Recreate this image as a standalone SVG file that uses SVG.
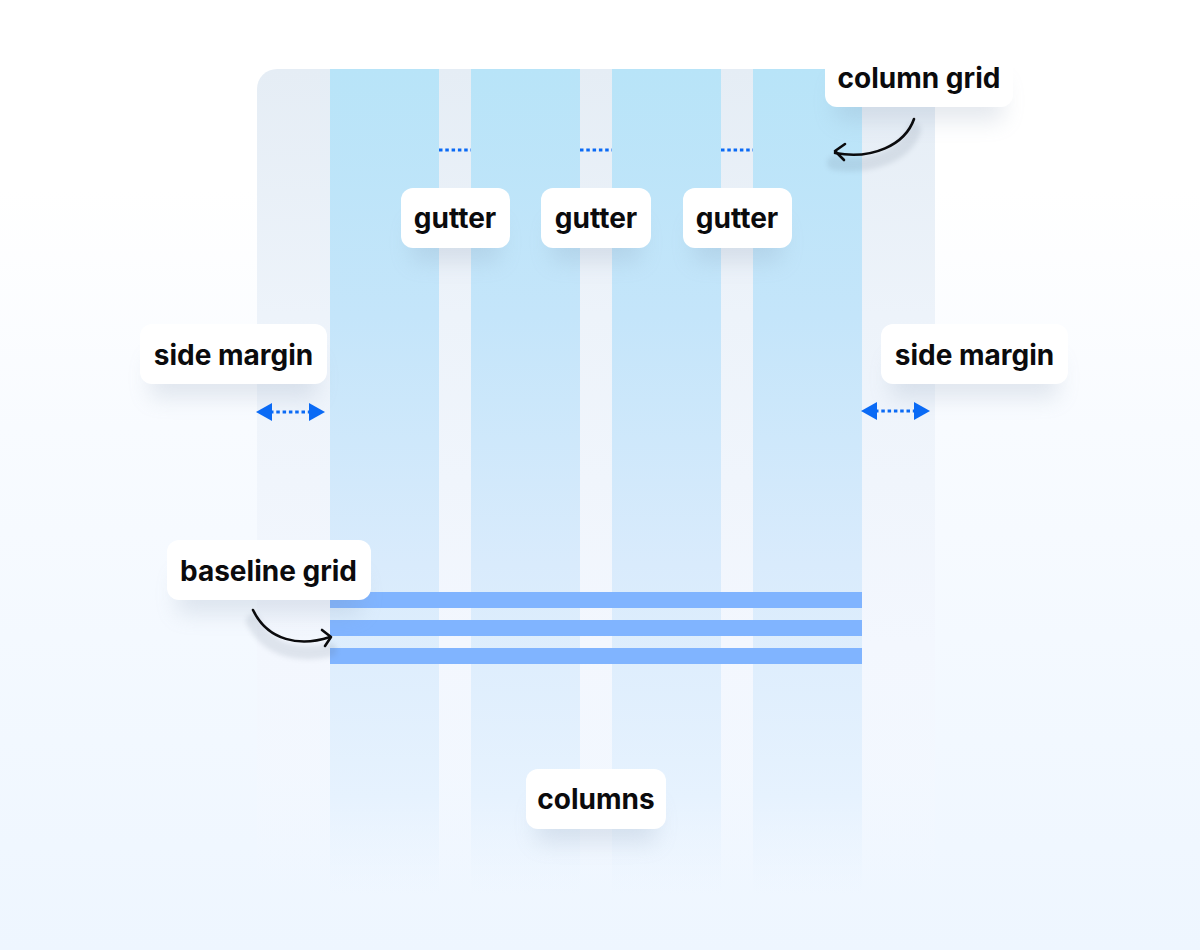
<svg xmlns="http://www.w3.org/2000/svg" width="1200" height="950" viewBox="0 0 1200 950">
<style>
.card{fill:#fff}
.lbl{font-family:"Inter","Liberation Sans",sans-serif;font-weight:700;font-size:28px;fill:#0b0b0d;text-anchor:middle}
.sh{fill:#7f93ad;opacity:.2;filter:url(#blur)}
.col{fill:url(#colGrad)}
.bar{fill:#80b4ff}
.dot{fill:none;stroke:#0a6af5;stroke-width:3;stroke-dasharray:3.5 2.8}
.curve{fill:none;stroke:#0b0b0d;stroke-width:2.6;stroke-linecap:round;stroke-linejoin:round}
.curveSh{fill:none;stroke:#5e6f85;stroke-width:14;stroke-linecap:round;opacity:.14;filter:url(#blurS)}
</style>
<defs>
<linearGradient id="bg" x1="0" y1="0" x2="0" y2="950" gradientUnits="userSpaceOnUse">
<stop offset="0" stop-color="#fff"/><stop offset=".2" stop-color="#fff"/><stop offset=".45" stop-color="#f8fbff"/><stop offset="1" stop-color="#eef6ff"/>
</linearGradient>
<linearGradient id="panelGrad" x1="0" y1="69" x2="0" y2="890" gradientUnits="userSpaceOnUse">
<stop offset="0" stop-color="#e5edf5"/><stop offset=".3" stop-color="#edf3fa"/><stop offset=".7" stop-color="#f3f7fe"/><stop offset="1" stop-color="#f3f7fe" stop-opacity="0"/>
</linearGradient>
<linearGradient id="colGrad" x1="0" y1="69" x2="0" y2="895" gradientUnits="userSpaceOnUse">
<stop offset="0" stop-color="#b8e4f8"/><stop offset=".3" stop-color="#c4e5fa"/><stop offset=".6" stop-color="#d9ebfc"/><stop offset=".88" stop-color="#e6f2fe"/><stop offset="1" stop-color="#e8f3fe" stop-opacity="0"/>
</linearGradient>
<filter id="blur" x="-30%" y="-60%" width="160%" height="220%"><feGaussianBlur stdDeviation="11"/></filter>
<filter id="blurS" x="-40%" y="-40%" width="180%" height="180%"><feGaussianBlur stdDeviation="2.5"/></filter>
<marker id="tri" viewBox="0 0 16 18" refX="2" refY="9" markerWidth="16" markerHeight="18" markerUnits="userSpaceOnUse" orient="auto-start-reverse"><path d="M0 0L16 9L0 18Z" fill="#0a6af5"/></marker>
</defs>
<rect width="1200" height="950" fill="url(#bg)"/>
<g id="page">
<path d="M935 890H257V89a20 20 0 0 1 20-20H935Z" fill="url(#panelGrad)"/>
<rect class="col" x="330" y="69" width="109" height="826"/>
<rect class="col" x="471" y="69" width="109" height="826"/>
<rect class="col" x="612" y="69" width="109" height="826"/>
<rect class="col" x="753" y="69" width="109" height="826"/>
<rect class="bar" x="330" y="592" width="532" height="16"/>
<rect class="bar" x="330" y="620" width="532" height="16"/>
<rect class="bar" x="330" y="648" width="532" height="16"/>
</g>
<g id="shadows">
<rect class="sh" x="411" y="222" width="89" height="40"/>
<rect class="sh" x="551" y="222" width="90" height="40"/>
<rect class="sh" x="693" y="222" width="89" height="40"/>
<rect class="sh" x="150" y="358" width="167" height="40"/>
<rect class="sh" x="891" y="358" width="167" height="40"/>
<rect class="sh" x="835" y="81" width="168" height="40"/>
<rect class="sh" x="177" y="574" width="184" height="40"/>
<rect class="sh" x="536" y="803" width="120" height="40"/>
<path class="curveSh" d="M914 130C906 155 870 169 834 163"/>
<path class="curveSh" d="M253 621C268 652 300 656 330 650"/>
</g>
<g id="connectors">
<path class="dot" d="M439 150H471"/>
<path class="dot" d="M580 150H612"/>
<path class="dot" d="M721 150H753"/>
<path class="dot" d="M270 412H311" marker-start="url(#tri)" marker-end="url(#tri)"/>
<path class="dot" d="M875 411H916" marker-start="url(#tri)" marker-end="url(#tri)"/>
<path class="curve" d="M914 119C905 145 872 160 835 153"/>
<path class="curve" d="M845 144L835 151L844 160"/>
<path class="curve" d="M253 610C268 641 300 647 330 637"/>
<path class="curve" d="M322 630L331 637L325 646"/>
</g>
<g id="label-column-grid"><rect class="card" x="825" y="47" width="188" height="60" rx="12"/><text class="lbl" x="919" y="88">column grid</text></g>
<g id="label-gutter-1"><rect class="card" x="401" y="188" width="109" height="60" rx="12"/><text class="lbl" x="455" y="228">gutter</text></g>
<g id="label-gutter-2"><rect class="card" x="541" y="188" width="110" height="60" rx="12"/><text class="lbl" x="596" y="228">gutter</text></g>
<g id="label-gutter-3"><rect class="card" x="683" y="188" width="109" height="60" rx="12"/><text class="lbl" x="737" y="228">gutter</text></g>
<g id="label-side-margin-left"><rect class="card" x="140" y="324" width="187" height="60" rx="12"/><text class="lbl" x="233.500" y="365">side margin</text></g>
<g id="label-side-margin-right"><rect class="card" x="881" y="324" width="187" height="60" rx="12"/><text class="lbl" x="974.500" y="365">side margin</text></g>
<g id="label-baseline-grid"><rect class="card" x="167" y="540" width="204" height="60" rx="12"/><text class="lbl" x="268.500" y="581">baseline grid</text></g>
<g id="label-columns"><rect class="card" x="526" y="769" width="140" height="60" rx="12"/><text class="lbl" x="596" y="809">columns</text></g>
</svg>
